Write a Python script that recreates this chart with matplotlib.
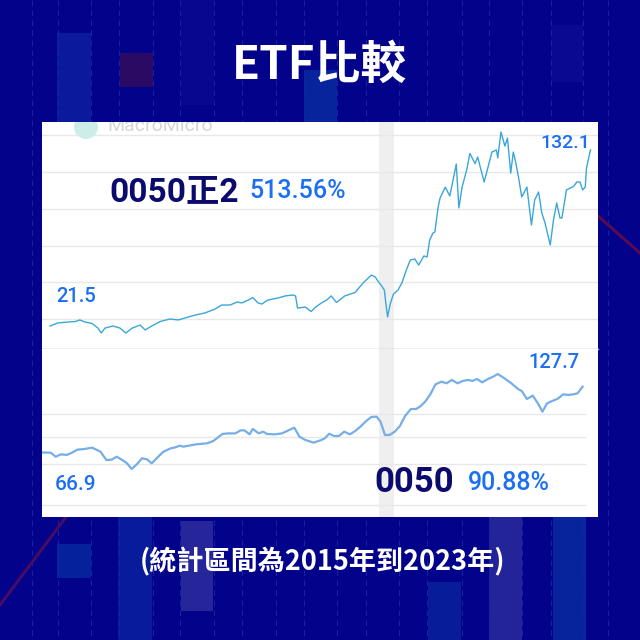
import matplotlib
matplotlib.use('Agg')
import matplotlib.pyplot as plt
from matplotlib.patches import Rectangle, Circle

plt.rcParams['font.family'] = ['Roboto', 'Noto Sans CJK TC', 'DejaVu Sans']

# 0050正2 (daily-ish trace), decimal year / price
lev_year = [2015.00, 2015.12, 2015.28, 2015.39, 2015.46, 2015.54, 2015.65, 2015.74, 2015.79, 2015.85,
            2015.97, 2016.08, 2016.17, 2016.27, 2016.39, 2016.47, 2016.57, 2016.70, 2016.85, 2016.98,
            2017.08, 2017.24, 2017.39, 2017.55, 2017.65, 2017.78, 2017.89, 2017.96, 2018.06, 2018.13,
            2018.21, 2018.27, 2018.36, 2018.52, 2018.63, 2018.75, 2018.79, 2018.82, 2018.94, 2019.03,
            2019.10, 2019.19, 2019.27, 2019.34, 2019.42, 2019.55, 2019.71, 2019.83, 2019.96, 2020.02,
            2020.06, 2020.12, 2020.16, 2020.19, 2020.21, 2020.25, 2020.30, 2020.37, 2020.43, 2020.50,
            2020.56, 2020.63, 2020.69, 2020.77, 2020.82, 2020.86, 2020.91, 2020.94, 2020.99, 2021.02,
            2021.10, 2021.17, 2021.27, 2021.31, 2021.36, 2021.43, 2021.48, 2021.56, 2021.60, 2021.70,
            2021.76, 2021.82, 2021.89, 2021.91, 2021.96, 2022.02, 2022.06, 2022.11, 2022.15, 2022.18,
            2022.23, 2022.28, 2022.36, 2022.43, 2022.48, 2022.54, 2022.59, 2022.64, 2022.72, 2022.77,
            2022.82, 2022.87, 2022.90, 2022.97, 2023.08, 2023.13, 2023.18, 2023.22, 2023.26, 2023.28,
            2023.34]
lev_price = [21.5, 23.4, 24.0, 24.3, 25.3, 24.0, 23.1, 20.2, 17.1, 20.2,
             21.5, 20.2, 17.1, 20.2, 22.1, 19.0, 21.5, 24.3, 25.9, 25.3,
             26.5, 28.4, 29.7, 32.2, 34.7, 34.7, 36.6, 36.0, 37.8, 39.4,
             36.0, 35.3, 37.8, 39.1, 40.4, 41.0, 40.4, 32.8, 33.4, 30.6,
             33.4, 36.0, 37.8, 40.4, 36.3, 40.4, 42.6, 48.5, 53.5, 52.3,
             49.8, 46.6, 44.1, 33.4, 27.2, 35.3, 41.6, 44.1, 48.5, 56.7,
             63.0, 63.6, 59.8, 65.5, 64.9, 75.5, 79.9, 80.6, 96.3, 101.9,
             108.8, 103.2, 123.3, 95.7, 108.8, 119.5, 129.9, 123.6, 127.7, 112.0,
             121.4, 130.8, 132.1, 127.1, 143.4, 134.6, 139.6, 117.6, 130.8, 125.8,
             115.1, 102.6, 108.8, 85.0, 100.7, 105.7, 92.5, 86.2, 72.4, 88.1,
             98.8, 89.4, 89.4, 107.0, 109.2, 112.0, 112.0, 107.0, 108.8, 120.8,
             132.1]

# 0050 (monthly)
etf_year = [2014.81, 2015.01, 2015.09, 2015.17, 2015.26, 2015.34, 2015.42, 2015.53, 2015.65, 2015.78,
            2015.87, 2015.95, 2016.03, 2016.14, 2016.19, 2016.26, 2016.34, 2016.42, 2016.50, 2016.57,
            2016.67, 2016.75, 2016.86, 2016.94, 2017.00, 2017.06, 2017.14, 2017.25, 2017.42, 2017.52,
            2017.66, 2017.75, 2017.86, 2017.94, 2018.00, 2018.08, 2018.13, 2018.22, 2018.29, 2018.35,
            2018.47, 2018.58, 2018.69, 2018.77, 2018.85, 2018.94, 2019.07, 2019.19, 2019.24, 2019.31,
            2019.38, 2019.46, 2019.54, 2019.63, 2019.71, 2019.79, 2019.88, 2019.96, 2020.04, 2020.10,
            2020.17, 2020.24, 2020.32, 2020.40, 2020.48, 2020.57, 2020.65, 2020.71, 2020.79, 2020.87,
            2020.95, 2021.04, 2021.12, 2021.20, 2021.29, 2021.37, 2021.45, 2021.52, 2021.59, 2021.67,
            2021.76, 2021.84, 2021.91, 2022.00, 2022.12, 2022.23, 2022.28, 2022.36, 2022.45, 2022.53,
            2022.60, 2022.67, 2022.75, 2022.83, 2022.92, 2023.00, 2023.08, 2023.14, 2023.22]
etf_price = [66.8, 66.5, 62.8, 65.0, 64.4, 66.5, 69.3, 69.9, 71.2, 67.4,
             59.7, 60.0, 62.8, 58.8, 56.6, 51.4, 55.7, 61.3, 60.3, 56.6,
             62.8, 67.4, 70.5, 71.5, 73.0, 72.1, 73.0, 74.2, 75.2, 77.3,
             83.8, 84.4, 84.4, 87.2, 87.2, 83.5, 88.5, 84.4, 86.0, 83.8,
             83.5, 84.4, 87.5, 89.7, 81.3, 78.3, 75.8, 78.3, 79.8, 84.1,
             82.0, 82.0, 86.0, 83.5, 86.6, 90.6, 95.9, 99.6, 99.9, 95.3,
             82.9, 82.9, 86.0, 91.2, 100.5, 107.0, 107.0, 109.2, 113.8, 120.6,
             129.9, 132.3, 130.8, 133.9, 130.8, 133.0, 133.9, 133.0, 134.8, 131.7,
             134.8, 137.0, 139.4, 136.0, 130.8, 125.2, 123.7, 116.3, 119.4, 112.2,
             104.5, 112.2, 114.4, 116.3, 120.6, 120.0, 120.6, 121.5, 127.7]

recession = (2020.08, 2020.31)
title = 'ETF比較'
subtitle = '(統計區間為2015年到2023年)'
lev_name, lev_ret, lev_first, lev_last = '0050正2', '513.56%', '21.5', '132.1'
etf_name, etf_ret, etf_first, etf_last = '0050', '90.88%', '66.9', '127.7'

NAVY = '#02028a'
DARK = '#0b0b6e'
BLUE = '#1a6ff2'


def fpos(x, y):
    # pixel position (from top-left) -> figure fraction
    return x / 640, 1 - y / 640


fig = plt.figure(figsize=(6.4, 6.4), dpi=100)
fig.patch.set_facecolor(NAVY)

# background decoration
bg = fig.add_axes([0, 0, 1, 1])
bg.set_xlim(0, 640)
bg.set_ylim(640, 0)
bg.axis('off')
for x in [32, 58, 91, 119, 153, 180, 214, 242, 276, 304, 337, 366, 399, 427, 462, 489, 522, 551, 583, 608]:
    bg.plot([x, x], [0, 640], color='#15249e', lw=0.8, ls=(0, (5, 4)), zorder=1)
boxes = [(57, 33, 91, 125, '#0a1a9a'), (120, 53, 153, 87, '#2a0a62'), (181, 0, 214, 105, '#08088f'),
         (304, 70, 337, 125, '#08249c'), (551, 25, 583, 82, '#0a0a91'),
         (57, 544, 91, 578, '#05229c'), (118, 515, 152, 640, '#081c9b'), (181, 521, 213, 611, '#26269a'),
         (428, 582, 461, 640, '#061c98'), (489, 515, 522, 640, '#242499'), (553, 515, 586, 640, '#08249c')]
for x0, y0, x1, y1, c in boxes:
    bg.add_patch(Rectangle((x0, y0), x1 - x0, y1 - y0, color=c, lw=0, zorder=0))
bg.plot([0, 75], [605, 505], color='#4a0c60', lw=2.2, zorder=2)
bg.plot([598, 640], [216, 253], color='#5a0a50', lw=2.2, zorder=2)

ax1 = fig.add_axes([42 / 640, 1 - 349 / 640, 556 / 640, 227 / 640])
ax2 = fig.add_axes([42 / 640, 1 - 517 / 640, 556 / 640, 168 / 640])
for ax in (ax1, ax2):
    ax.set_facecolor('white')
    ax.set_xlim(2014.877, 2023.457)
    ax.set_xticks([])
    ax.set_yticks([])
    for s in ax.spines.values():
        s.set_visible(False)
    ax.axvspan(*recession, color='#efefef', lw=0, zorder=0)

ax1.set_ylim(7.05, 149.7)
for g in [25.9, 49.1, 71.8, 95.0, 118.3, 141.5]:
    ax1.axhline(g, color='#e8e8e8', lw=1, zorder=1)
ax1.spines['bottom'].set_visible(True)
ax1.spines['bottom'].set_color('#b2b2d8')
ax1.spines['bottom'].set_linewidth(1)
ax1.plot(lev_year, lev_price, color='#3aa7d7', lw=1.0, zorder=3)

ax2.set_ylim(6.9, 162.6)
for g in [18.0, 56.1, 81.1, 102.4]:
    ax2.axhline(g, xmax=0.977, color='#e8e8e8', lw=1, zorder=1)
ax2.plot(etf_year, etf_price, color='#76aee8', lw=1.6, zorder=3)

# watermark, cut by the top of the panel
ax1.add_patch(Circle(fpos(86, 127), 12 / 640, transform=fig.transFigure, color='#cdeee8', lw=0, zorder=2))
ax1.text(*fpos(107, 131), 'MacroMicro', transform=fig.transFigure, fontsize=14,
         color='#d6d6d6', clip_on=True, zorder=2)

# texts
fig.text(*fpos(319, 79), title, ha='center', va='baseline', fontsize=33, fontweight='bold',
         color='white', family=['Noto Sans CJK TC'])
fig.text(*fpos(322, 570), subtitle, ha='center', va='baseline', fontsize=19.5, fontweight='bold',
         color='white', family=['Noto Sans CJK TC'])

fig.text(*fpos(109, 201), lev_name, va='baseline', fontsize=24, fontweight='bold', color=DARK)
fig.text(*fpos(249, 198), lev_ret, va='baseline', fontsize=18, fontweight='medium', color=BLUE)
fig.text(*fpos(56, 302), lev_first, va='baseline', fontsize=14.5, fontweight='medium', color=BLUE)
fig.text(*fpos(540, 148), lev_last, va='baseline', fontsize=14, fontweight='medium', color=BLUE)

fig.text(*fpos(374, 492), etf_name, va='baseline', fontsize=25, fontweight='bold', color=DARK)
fig.text(*fpos(468, 490), etf_ret, va='baseline', fontsize=18, fontweight='medium', color=BLUE)
fig.text(*fpos(55, 490), etf_first, va='baseline', fontsize=15, fontweight='medium', color=BLUE)
fig.text(*fpos(528, 368), etf_last, va='baseline', fontsize=14.5, fontweight='medium', color=BLUE)

fig.savefig('out.png', dpi=100, facecolor=NAVY)
